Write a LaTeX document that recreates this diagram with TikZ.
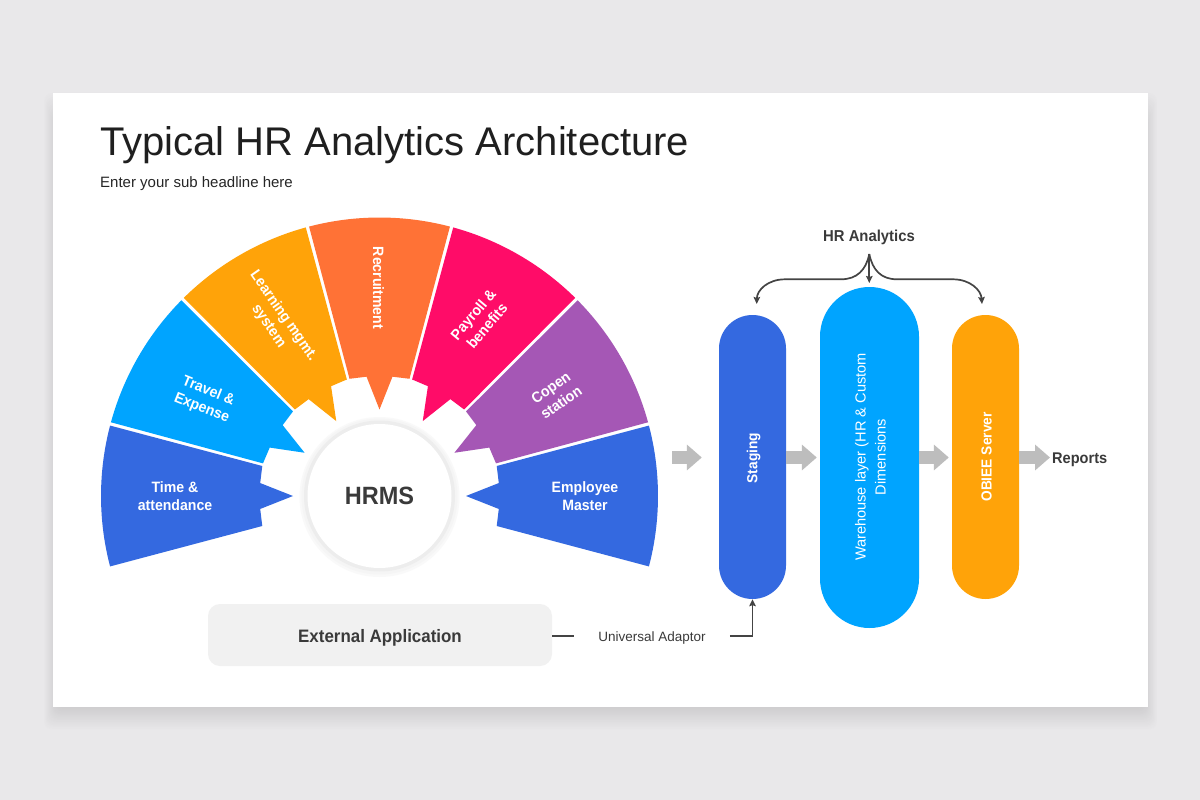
\documentclass[tikz,border=0pt]{standalone}
\usepackage{fontspec}
\setmainfont{Liberation Sans}[BoldFeatures={FakeStretch=0.94}]
\usetikzlibrary{arrows.meta}
\definecolor{bgc}{HTML}{E9E8EA}
\definecolor{bluec}{HTML}{3469E0}
\definecolor{skyc}{HTML}{00A4FF}
\definecolor{ambc}{HTML}{FFA309}
\definecolor{orac}{HTML}{FF7236}
\definecolor{pinc}{HTML}{FF0C68}
\definecolor{purc}{HTML}{A557B5}
\definecolor{inkc}{HTML}{3A3A3A}
\definecolor{linec}{HTML}{444444}
\definecolor{graya}{HTML}{BDBDBD}
\definecolor{boxc}{HTML}{F1F1F1}
\tikzset{
  seclabel/.style={text=white,font=\fontsize{15}{18}\selectfont\bfseries,align=center,inner sep=0pt},
  pilltext/.style={text=white,font=\fontsize{14.6}{20}\selectfont,align=center,inner sep=0pt,rotate=90},
  blockarrow/.style={draw=graya,line width=13.5pt,-{Triangle[length=15pt,width=25pt,fill=graya]}},
  thin line/.style={draw=linec,line width=1.7pt},
  smalltip/.style={-{Stealth[length=7pt,width=6.5pt,inset=1pt]}},
}
\newcommand{\mysector}[2]{%
  \fill[#2] (#1-14.65:278.5pt) arc[start angle=#1-14.65,end angle=#1+14.65,radius=278.5pt]
    -- (#1+14.35:121pt) -- (#1+6.2:120pt) -- (#1:86.5pt) -- (#1-6.2:120pt) -- (#1-14.35:121pt) -- cycle;}
\begin{document}
\begin{tikzpicture}[x=1pt,y=-1pt]
\useasboundingbox (0,0) rectangle (1200,800);
\fill[bgc] (0,0) rectangle (1200,800);
% card with soft shadow, painted from the outermost (lightest) layer inward
\foreach \i in {16,15,...,1}{
  \pgfmathsetmacro{\p}{(17-\i)*0.7}
  \fill[black!\p!bgc,rounded corners=8pt] (53-0.8*\i+4,125-2*\i) rectangle (1148+0.8*\i-4,707+1.4*\i);
}
\fill[white] (53,93) rectangle (1148,707);
\node[anchor=west,inner sep=0pt,text=black!88,font=\fontsize{40}{40}\selectfont,text height=33pt,text depth=5pt] (title) at (100,141) {Typical HR Analytics Architecture};
\node[anchor=west,inner sep=0pt,text=black!85,font=\fontsize{15}{16}\selectfont,text height=13.5pt,text depth=3pt] (sub) at (100,182) {Enter your sub headline here};
% semicircle
\begin{scope}[shift={(379.5,496)},y=1pt]
\mysector{180}{bluec}
\mysector{150}{skyc}
\mysector{120}{ambc}
\mysector{90}{orac}
\mysector{60}{pinc}
\mysector{30}{purc}
\mysector{0}{bluec}
\end{scope}
\fill[black!2.5] (379.5,497) circle[radius=80pt];
\fill[black!4] (379.5,496.5) circle[radius=78pt];
\fill[black!7] (379.5,496) circle[radius=75.5pt];
\node[circle,fill=white,minimum size=144pt,inner sep=0pt,text=inkc,font=\fontsize{25}{26}\selectfont\bfseries] (hrms) at (379.5,496) {HRMS};
\node[seclabel] (s1) at (175,496) {Time \&\\attendance};
\node[seclabel,rotate=-22] (s2) at (205,400) {Travel \&\\Expense};
\node[seclabel,rotate=-55] (s3) at (276,321) {Learning mgmt.\\system};
\node[seclabel,rotate=-90] (s4) at (378.5,288) {Recruitment};
\node[seclabel,rotate=50] (s5) at (480,320) {Payroll \&\\benefits};
\node[seclabel,rotate=35] (s6) at (556,395) {Copen\\station};
\node[seclabel] (s7) at (585,496) {Employee\\Master};
% pills
\node[fill=bluec,rounded corners=33.5pt,minimum width=67pt,minimum height=284pt,inner sep=0pt] (staging) at (752.5,457) {};
\node[fill=skyc,rounded corners=49.5pt,minimum width=99pt,minimum height=341pt,inner sep=0pt] (warehouse) at (869.5,457.5) {};
\node[fill=ambc,rounded corners=33.5pt,minimum width=67pt,minimum height=284pt,inner sep=0pt] (obiee) at (985.5,457) {};
\node[pilltext,font=\fontsize{14.6}{20}\selectfont\bfseries] (stagingt) at (753.5,458) {Staging};
\node[pilltext] (warehouset) at (870.5,457) {Warehouse layer (HR \& Custom\\Dimensions};
\node[pilltext,font=\fontsize{14.6}{20}\selectfont\bfseries] (obieet) at (986.5,457) {OBIEE Server};
\node[anchor=west,inner sep=0pt,text=inkc,font=\fontsize{15.5}{16}\selectfont\bfseries,text height=14pt,text depth=3pt] (reports) at (1052,457.5) {Reports};
\node[inner sep=0pt,text=inkc,font=\fontsize{15.8}{16}\selectfont\bfseries,text height=14.5pt,text depth=3pt] (hra) at (869,236) {HR Analytics};
% block arrows
\coordinate (feed) at (672,457.5);
\draw[blockarrow,shorten >=17pt] (feed) -- (feed-|staging.west);
\draw[blockarrow,shorten >=3pt] (staging.east|-feed) -- (warehouse.west|-feed);
\draw[blockarrow,shorten >=3pt] (warehouse.east|-feed) -- (obiee.west|-feed);
\draw[blockarrow,shorten >=2pt] (obiee.east|-feed) -- (reports.west|-feed);
% bracket
\coordinate (brk) at (869.3,254);
\coordinate (brkl) at (756.7,304);
\coordinate (brkc) at (869.3,283);
\coordinate (brkr) at (982,304);
\draw[thin line,smalltip] (brk) .. controls (866,270) and (857,279.3) .. (841,279.3) -- (785,279.3) .. controls (768,279.3) and (757,290) .. (brkl);
\draw[thin line,smalltip] (brk) .. controls (872.5,270) and (881,279.3) .. (897,279.3) -- (953,279.3) .. controls (970,279.3) and (981,290) .. (brkr);
\draw[thin line,smalltip] (brk) -- (brkc);
% external
\node[fill=boxc,rounded corners=12pt,minimum width=344pt,minimum height=62pt,inner sep=0pt,text=inkc,font=\fontsize{18}{20}\selectfont\bfseries,text height=18pt,text depth=3.8pt] (ext) at (380,635) {External Application};
\node[inner xsep=24pt,inner ysep=0pt,text=inkc,font=\fontsize{13.5}{15}\selectfont,text height=13.5pt,text depth=2.7pt] (ua) at (652,635.7) {Universal Adaptor};
\draw[thin line] (ua.west-|ext.east) -- (ua.west);
\draw[thin line,smalltip] (ua.east) -| (staging.south);
\end{tikzpicture}
\end{document}
